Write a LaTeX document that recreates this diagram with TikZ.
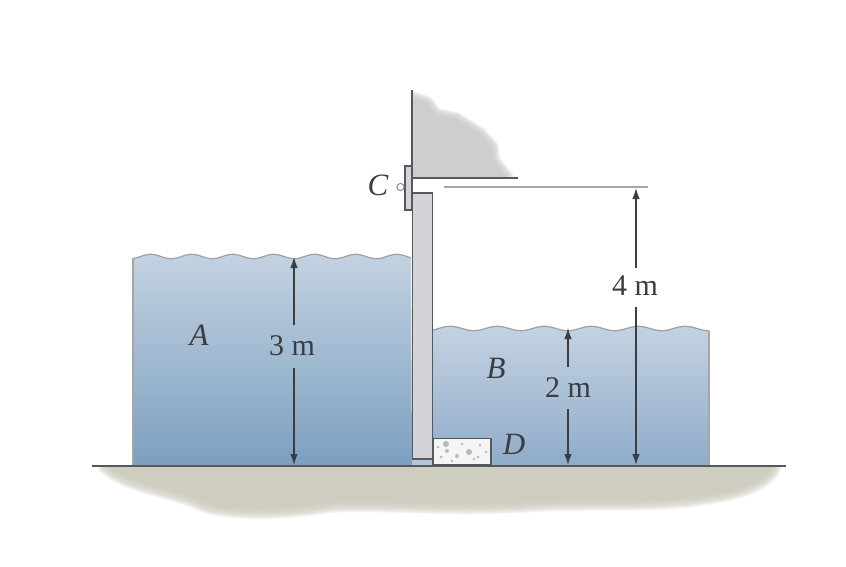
\documentclass[tikz,border=0pt]{standalone}
\usepackage{fontspec}
\setmainfont{Liberation Serif}
\usetikzlibrary{arrows.meta}
\definecolor{ink}{HTML}{3A3D42}
\definecolor{wtop}{HTML}{C3D2E1}
\definecolor{wbotA}{HTML}{7C9FC0}
\definecolor{wbotB}{HTML}{90ACCA}
\definecolor{groundc}{HTML}{CFCDC0}
\definecolor{cloudc}{HTML}{CDCED0}
\definecolor{gatec}{HTML}{D2D4D8}
\definecolor{edgec}{HTML}{55585E}
\definecolor{gapc}{HTML}{B4C8DA}
\tikzset{
  dimline/.style={draw=ink,line width=1.3pt},
  dimtip/.style={-{Latex[length=11pt,width=7.5pt]}},
  dimlabel/.style={font=\fontsize{30}{30}\selectfont,text=ink,inner sep=0pt},
  letter/.style={font=\fontsize{31}{31}\selectfont\itshape,text=ink,inner sep=0pt},
  outline/.style={draw=edgec,line width=1.5pt},
  surface/.style={draw=gray!75,line width=1.2pt},
  speck/.style={fill=gray!55,draw=none}
}
\begin{document}
\begin{tikzpicture}[x=1pt,y=-1pt]
\useasboundingbox (0,0) rectangle (846,567);
\fill[white] (0,0) rectangle (846,567);
% ground shadow
\begin{scope}
\clip (80,466) rectangle (800,540);
\def\groundpath{(108,466) -- (772,466) .. controls (765,480) and (745,490) .. (700,496)
  .. controls (650,504) and (590,498) .. (520,503) .. controls (440,507) and (380,500) .. (330,503)
  .. controls (280,511) and (230,511) .. (205,503) .. controls (180,489) and (135,487) .. (108,466) -- cycle}
\foreach \w in {20,18,16,14,12,10,8,6,4,2}{
  \draw[groundc,line width=\w pt,line join=round,opacity=0.2] \groundpath;
}
\fill[groundc] \groundpath;
\end{scope}
% cloud behind the support
\begin{scope}
\clip (413,80) rectangle (530,178);
\def\cloudpath{(413,98) -- (427,103) -- (436,115) -- (456,119) -- (480,134) -- (492,147) -- (493,160) -- (507,178) -- (413,178) -- cycle}
\foreach \w in {14,12,10,8,6,4,2}{
  \draw[cloudc,line width=\w pt,line join=round,opacity=0.25] \cloudpath;
}
\fill[cloudc] \cloudpath;
\end{scope}
% water A
\shade[top color=wtop,bottom color=wbotA]
  (133,466) -- (133,257) -- plot[domain=133:411,samples=120,smooth] (\x,{256.5+2.2*sin((\x-120)/41*360)}) -- (412,466) -- cycle;
\draw[surface] plot[domain=133:411,samples=120,smooth] (\x,{256.5+2.2*sin((\x-120)/41*360)});
\draw[gray!70,line width=1.1pt] (133,258) -- (133,466);
% water B
\shade[top color=wtop,bottom color=wbotB]
  (433,466) -- (433,329) -- plot[domain=433:709,samples=120,smooth] (\x,{328.5+2.2*sin((\x-462)/47*360)}) -- (709,466) -- cycle;
\draw[surface] plot[domain=433:709,samples=120,smooth] (\x,{328.5+2.2*sin((\x-462)/47*360)});
\draw[gray!70,line width=1.1pt] (709,331) -- (709,466);
% gap below the gate
\fill[gapc] (412,458) rectangle (433,466);
% support, plate, pin
\draw[edgec,line width=2pt] (412,90) -- (412,178) -- (518,178);
\draw[edgec,fill=gatec,line width=1.2pt] (405,166) rectangle (412,210);
\draw[edgec!70,fill=white,line width=1pt] (400.5,187) circle (3.6);
% gate
\draw[outline,fill=gatec] (412.5,193) rectangle (432.5,459);
% block D
\draw[outline,fill=white!92!gray] (433,438.5) rectangle (491,465);
\foreach \px/\py/\r in {446/444/3,447/451/2,441/457/1.5,457/456/2,462/444/1.4,469/452/3,478/457/1.5,480/445/1.4,474/459/1.4,452/461/1.4,438/447/1.4,486/452/1.3}{
  \fill[speck] (\px,\py) circle (\r);
}
% ground line
\draw[edgec,line width=2pt] (92,466) -- (786,466);
% extension line
\draw[gray!70,line width=1.4pt] (444,187) -- (648,187);
% labels
\node[letter] (lC) at (378,185) {C};
\node[letter] (lA) at (199,335) {A};
\node[letter] (lB) at (496,368) {B};
\node[letter] (lD) at (514,444) {D};
\node[dimlabel] (d3) at (292,346) {3 m};
\node[dimlabel] (d2) at (568,388) {2 m};
\node[dimlabel] (d4) at (635,286) {4 m};
% dimension ends
\coordinate (a3t) at (294,257);
\coordinate (a3b) at (294,465);
\coordinate (a2t) at (568,328);
\coordinate (a2b) at (568,465);
\coordinate (a4t) at (636,188);
\coordinate (a4b) at (636,465);
\draw[dimline,dimtip] (294,325) -- (a3t);
\draw[dimline,dimtip] (294,368) -- (a3b);
\draw[dimline,dimtip] (568,367) -- (a2t);
\draw[dimline,dimtip] (568,409) -- (a2b);
\draw[dimline,dimtip] (636,268) -- (a4t);
\draw[dimline,dimtip] (636,307) -- (a4b);
\end{tikzpicture}
\end{document}
